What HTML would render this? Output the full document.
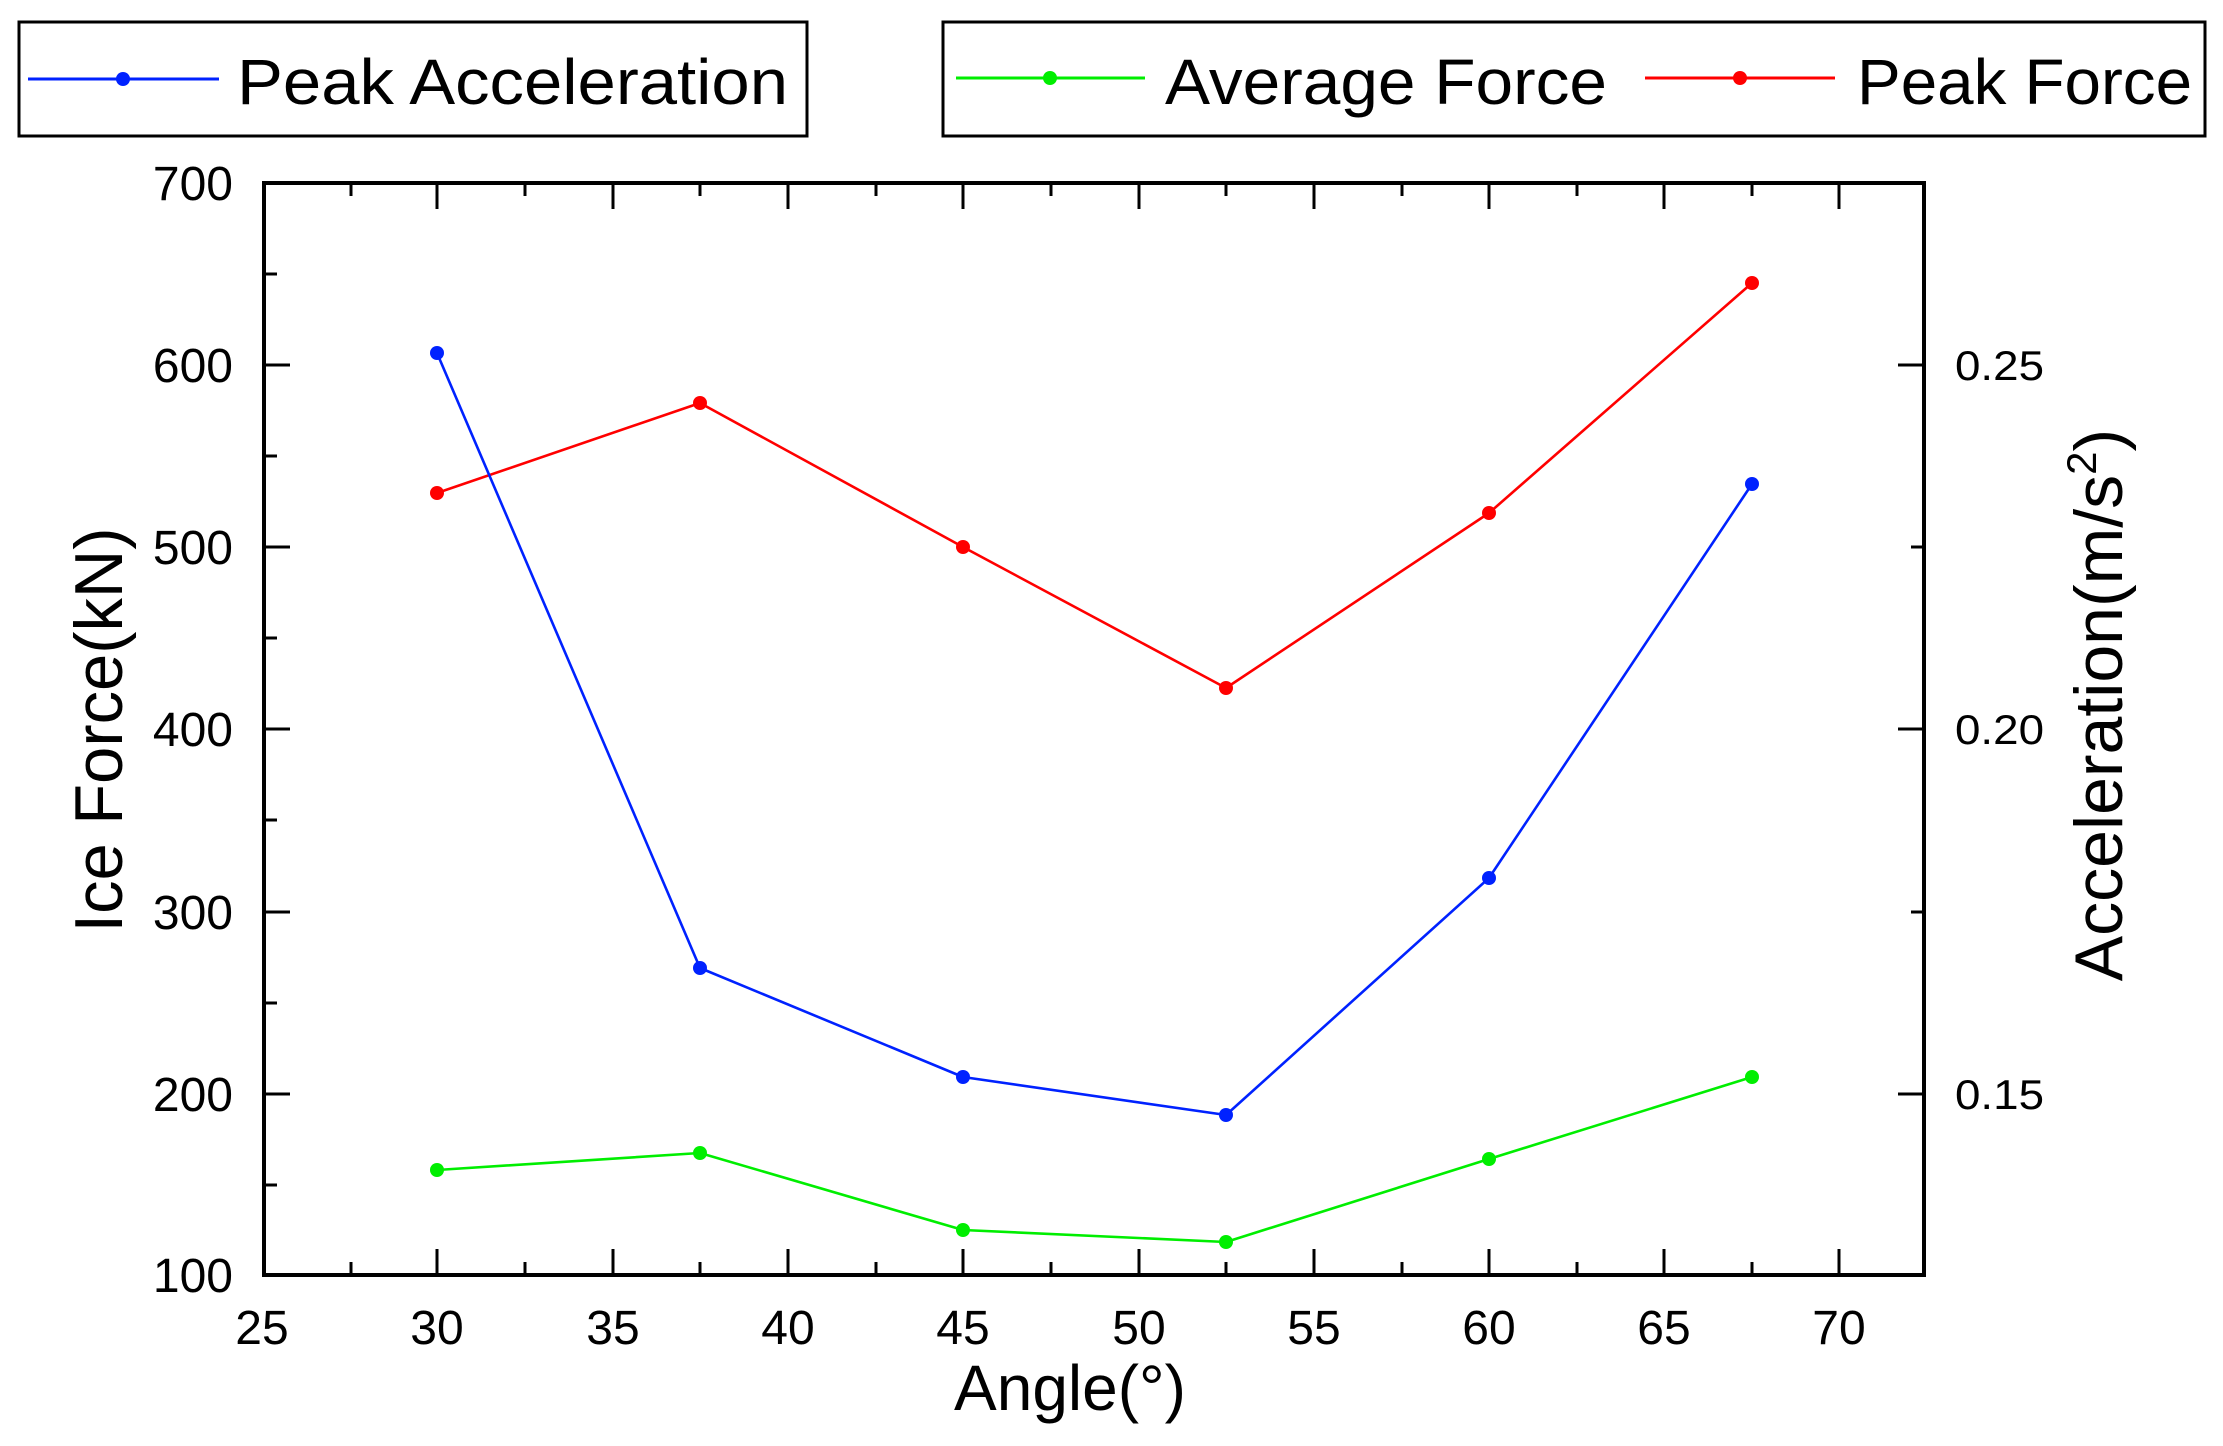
<!DOCTYPE html>
<html><head><meta charset="utf-8"><style>
html,body{margin:0;padding:0;background:#fff;}
svg{display:block;}
text{font-family:"Liberation Sans",sans-serif;fill:#000;}
</style></head><body>
<svg width="2223" height="1446" viewBox="0 0 2223 1446" xmlns="http://www.w3.org/2000/svg">
<rect x="19" y="22" width="788" height="114" fill="none" stroke="#000" stroke-width="3"/>
<line x1="28" y1="79" x2="219" y2="79" stroke="#0022ff" stroke-width="3"/>
<circle cx="123" cy="79" r="7" fill="#0022ff"/>
<text x="237" y="104" font-size="64" textLength="551" lengthAdjust="spacingAndGlyphs">Peak Acceleration</text>

<rect x="943" y="22" width="1262" height="114" fill="none" stroke="#000" stroke-width="3"/>
<line x1="956" y1="78" x2="1145" y2="78" stroke="#00ee00" stroke-width="3"/>
<circle cx="1050" cy="78" r="7" fill="#00ee00"/>
<text x="1165" y="104" font-size="64" textLength="442" lengthAdjust="spacingAndGlyphs">Average Force</text>
<line x1="1645" y1="78" x2="1835" y2="78" stroke="#ff0000" stroke-width="3"/>
<circle cx="1740" cy="78" r="7" fill="#ff0000"/>
<text x="1857" y="104" font-size="64" textLength="335" lengthAdjust="spacingAndGlyphs">Peak Force</text>

<rect x="264" y="183" width="1660" height="1092" fill="none" stroke="#000" stroke-width="4"/>
<g stroke="#000" stroke-width="3">
<line x1="351" y1="1275" x2="351" y2="1262"/><line x1="437" y1="1275" x2="437" y2="1249"/>
<line x1="525" y1="1275" x2="525" y2="1262"/><line x1="613" y1="1275" x2="613" y2="1249"/>
<line x1="700" y1="1275" x2="700" y2="1262"/><line x1="788" y1="1275" x2="788" y2="1249"/>
<line x1="876" y1="1275" x2="876" y2="1262"/><line x1="963" y1="1275" x2="963" y2="1249"/>
<line x1="1051" y1="1275" x2="1051" y2="1262"/><line x1="1139" y1="1275" x2="1139" y2="1249"/>
<line x1="1226" y1="1275" x2="1226" y2="1262"/><line x1="1314" y1="1275" x2="1314" y2="1249"/>
<line x1="1402" y1="1275" x2="1402" y2="1262"/><line x1="1489" y1="1275" x2="1489" y2="1249"/>
<line x1="1577" y1="1275" x2="1577" y2="1262"/><line x1="1664" y1="1275" x2="1664" y2="1249"/>
<line x1="1752" y1="1275" x2="1752" y2="1262"/><line x1="1839" y1="1275" x2="1839" y2="1249"/>

<line x1="351" y1="183" x2="351" y2="196"/><line x1="437" y1="183" x2="437" y2="209"/>
<line x1="525" y1="183" x2="525" y2="196"/><line x1="613" y1="183" x2="613" y2="209"/>
<line x1="700" y1="183" x2="700" y2="196"/><line x1="788" y1="183" x2="788" y2="209"/>
<line x1="876" y1="183" x2="876" y2="196"/><line x1="963" y1="183" x2="963" y2="209"/>
<line x1="1051" y1="183" x2="1051" y2="196"/><line x1="1139" y1="183" x2="1139" y2="209"/>
<line x1="1226" y1="183" x2="1226" y2="196"/><line x1="1314" y1="183" x2="1314" y2="209"/>
<line x1="1402" y1="183" x2="1402" y2="196"/><line x1="1489" y1="183" x2="1489" y2="209"/>
<line x1="1577" y1="183" x2="1577" y2="196"/><line x1="1664" y1="183" x2="1664" y2="209"/>
<line x1="1752" y1="183" x2="1752" y2="196"/><line x1="1839" y1="183" x2="1839" y2="209"/>

<line x1="264" y1="274" x2="277" y2="274"/><line x1="264" y1="365" x2="290" y2="365"/>
<line x1="264" y1="456" x2="277" y2="456"/><line x1="264" y1="547" x2="290" y2="547"/>
<line x1="264" y1="638" x2="277" y2="638"/><line x1="264" y1="729" x2="290" y2="729"/>
<line x1="264" y1="820" x2="277" y2="820"/><line x1="264" y1="912" x2="290" y2="912"/>
<line x1="264" y1="1003" x2="277" y2="1003"/><line x1="264" y1="1094" x2="290" y2="1094"/>
<line x1="264" y1="1185" x2="277" y2="1185"/>
<line x1="1924" y1="365" x2="1898" y2="365"/><line x1="1924" y1="547" x2="1911" y2="547"/>
<line x1="1924" y1="729" x2="1898" y2="729"/><line x1="1924" y1="912" x2="1911" y2="912"/>
<line x1="1924" y1="1094" x2="1898" y2="1094"/>
</g>

<g font-size="48" text-anchor="end">
<text x="233" y="200">700</text><text x="233" y="382">600</text>
<text x="233" y="564">500</text><text x="233" y="746">400</text>
<text x="233" y="929">300</text><text x="233" y="1111">200</text>
<text x="233" y="1292">100</text>
</g>
<g font-size="42" style="font-family:'DejaVu Sans',sans-serif">
<text x="1955" y="380" textLength="89" lengthAdjust="spacingAndGlyphs">0.25</text>
<text x="1955" y="744" textLength="89" lengthAdjust="spacingAndGlyphs">0.20</text>
<text x="1955" y="1109" textLength="89" lengthAdjust="spacingAndGlyphs">0.15</text>
</g>
<g font-size="48" text-anchor="middle">
<text x="262" y="1344">25</text><text x="437" y="1344">30</text>
<text x="613" y="1344">35</text><text x="788" y="1344">40</text>
<text x="963" y="1344">45</text><text x="1139" y="1344">50</text>
<text x="1314" y="1344">55</text><text x="1489" y="1344">60</text>
<text x="1664" y="1344">65</text><text x="1839" y="1344">70</text>
</g>

<text x="1070" y="1410" font-size="64" text-anchor="middle">Angle(°)</text>
<text transform="translate(122,730) rotate(-90)" font-size="68" text-anchor="middle" textLength="405" lengthAdjust="spacingAndGlyphs">Ice Force(kN)</text>
<text transform="translate(2122,705) rotate(-90)" font-size="68" text-anchor="middle">Acceleration(m/s<tspan dy="-26" font-size="42">2</tspan><tspan dy="26">)</tspan></text>

<g fill="none" stroke-width="2.6" stroke-linejoin="round">
<polyline stroke="#ff0000" points="437,493 700,403 963,547 1226,688 1489,513 1752,283"/>
<polyline stroke="#0022ff" points="437,353 700,968 963,1077 1226,1115 1489,878 1752,484"/>
<polyline stroke="#00ee00" points="437,1170 700,1153 963,1230 1226,1242 1489,1159 1752,1077"/>
</g>
<g fill="#ff0000">
<circle cx="437" cy="493" r="7"/><circle cx="700" cy="403" r="7"/><circle cx="963" cy="547" r="7"/>
<circle cx="1226" cy="688" r="7"/><circle cx="1489" cy="513" r="7"/><circle cx="1752" cy="283" r="7"/>
</g>
<g fill="#0022ff">
<circle cx="437" cy="353" r="7"/><circle cx="700" cy="968" r="7"/><circle cx="963" cy="1077" r="7"/>
<circle cx="1226" cy="1115" r="7"/><circle cx="1489" cy="878" r="7"/><circle cx="1752" cy="484" r="7"/>
</g>
<g fill="#00ee00">
<circle cx="437" cy="1170" r="7"/><circle cx="700" cy="1153" r="7"/><circle cx="963" cy="1230" r="7"/>
<circle cx="1226" cy="1242" r="7"/><circle cx="1489" cy="1159" r="7"/><circle cx="1752" cy="1077" r="7"/>
</g>
</svg>
</body></html>
